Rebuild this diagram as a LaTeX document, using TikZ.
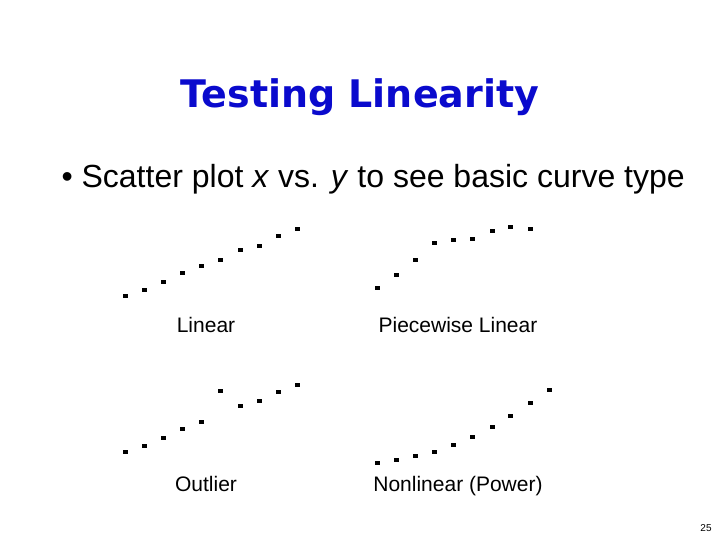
\documentclass[tikz,border=0pt]{standalone}
\usepackage{fontspec}
\setmainfont{Liberation Sans}
\newfontfamily\titlefont{DejaVu Sans}
\definecolor{titleblue}{RGB}{10,10,205}
\begin{document}
\begin{tikzpicture}[x=1pt,y=-1pt,
  pt/.style={fill=black,inner sep=0pt,minimum width=5pt,minimum height=4pt,rectangle},
  lbl/.style={font=\fontsize{21}{24}\selectfont,anchor=base}]
\useasboundingbox (0,0) rectangle (720,540);
\node[font=\titlefont\bfseries\fontsize{38}{42}\selectfont,text=titleblue,anchor=base] (title) at (360,108) {Testing Linearity};
\node[font=\fontsize{32}{36}\selectfont,anchor=base west] (bullet) at (58,188) {• Scatter plot \textit{x} vs. \textit{y} to see basic curve type};
\foreach \x/\y [count=\i] in {125/296,144/290,163/282,182/273,201/266,220/260,240/250,259/246,278/236,297/229}
  \node[pt] (a\i) at (\x,\y) {};
\foreach \x/\y [count=\i] in {377/288,396/275,415/260,434/243,453/240,472/239,492/231,510/227,530/229}
  \node[pt] (b\i) at (\x,\y) {};
\foreach \x/\y [count=\i] in {125/452,144/446,163/438,182/429,201/422,220/391,240/406,259/401,278/392,297/385}
  \node[pt] (c\i) at (\x,\y) {};
\foreach \x/\y [count=\i] in {377/463,396/460,415/456,434/452,453/445,472/437,492/427,510/416,530/403,549/390}
  \node[pt] (d\i) at (\x,\y) {};
\node[lbl] (l1) at (206,332) {Linear};
\node[lbl] (l2) at (458,332) {Piecewise Linear};
\node[lbl] (l3) at (206,491) {Outlier};
\node[lbl] (l4) at (458,491) {Nonlinear (Power)};
\node[font=\fontsize{10}{12}\selectfont,anchor=base] (pg) at (706,531) {25};
\end{tikzpicture}
\end{document}
